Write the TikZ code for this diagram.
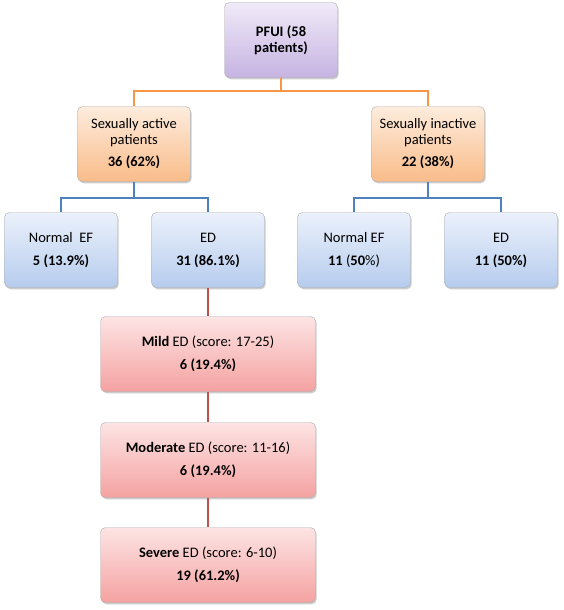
\documentclass[tikz,border=0pt]{standalone}
\usepackage{fontspec}
\setmainfont{Carlito}
\usetikzlibrary{shadows}

\definecolor{purpleTop}{HTML}{F0EAF8}
\definecolor{purpleBot}{HTML}{C6B3E2}
\definecolor{orangeTop}{HTML}{FDECDD}
\definecolor{orangeBot}{HTML}{F9BC89}
\definecolor{blueTop}{HTML}{EBF1FB}
\definecolor{blueBot}{HTML}{B6CCEE}
\definecolor{redTop}{HTML}{FDE4E4}
\definecolor{redBot}{HTML}{F4A2A1}
\definecolor{lineOrange}{HTML}{F79646}
\definecolor{lineBlue}{HTML}{4F81BD}
\definecolor{lineRed}{HTML}{C0504D}

\tikzset{
  box/.style={draw=gray!65, rounded corners=5pt, align=center,
    minimum width=113pt, minimum height=75pt, inner sep=2pt,
    font=\fontsize{14.5}{16}\selectfont,
    drop shadow={opacity=0.4, shadow xshift=1.2pt, shadow yshift=-1.8pt}},
  purplebox/.style={box, top color=purpleTop, bottom color=purpleBot},
  orangebox/.style={box, top color=orangeTop, bottom color=orangeBot},
  bluebox/.style={box, top color=blueTop, bottom color=blueBot},
  redbox/.style={box, top color=redTop, bottom color=redBot, minimum width=215pt},
  link/.style={line width=2.2pt}
}

\begin{document}
\begin{tikzpicture}[x=1pt,y=-1pt]
  \useasboundingbox (0,0) rectangle (563,610);

  \node[purplebox] (pfui) at (281,40) {\textbf{PFUI (58}\\\textbf{patients)}};

  \node[orangebox] (active) at (134,144) {Sexually active\\patients\\[6pt]\textbf{36 (62\%)}};
  \node[orangebox] (inactive) at (428,144) {Sexually inactive\\patients\\[6pt]\textbf{22} \textbf{(38\%)}};

  \node[bluebox] (normA) at (61,250) {Normal\ \ EF\\[7pt]\textbf{5 (13.9\%)}};
  \node[bluebox] (edA) at (208,250) {ED\\[7pt]\textbf{31} \textbf{(86.1\%)}};
  \node[bluebox] (normI) at (354,250) {Normal EF\\[7pt]\textbf{11} (\textbf{50}\%)};
  \node[bluebox] (edI) at (501,250) {ED\\[7pt]\textbf{11} \textbf{(50\%)}};

  \node[redbox] (mild) at (208,354) {\textbf{Mild} ED (score: 17-25)\\[7pt]\textbf{6 (19.4\%)}};
  \node[redbox] (moderate) at (208,460) {\textbf{Moderate} ED (score: 11-16)\\[7pt]\textbf{6 (19.4\%)}};
  \node[redbox] (severe) at (208,565) {\textbf{Severe} ED (score: 6-10)\\[7pt]\textbf{19 (61.2\%)}};

  \draw[link, lineOrange] (pfui.south) -- ++(0,13) -| (active.north);
  \draw[link, lineOrange] (pfui.south) -- ++(0,13) -| (inactive.north);

  \draw[link, lineBlue] (active.south) -- ++(0,16) -| (normA.north);
  \draw[link, lineBlue] (active.south) -- ++(0,16) -| (edA.north);
  \draw[link, lineBlue] (inactive.south) -- ++(0,16) -| (normI.north);
  \draw[link, lineBlue] (inactive.south) -- ++(0,16) -| (edI.north);

  \draw[link, lineRed] (edA.south) -- (mild.north);
  \draw[link, lineRed] (mild.south) -- (moderate.north);
  \draw[link, lineRed] (moderate.south) -- (severe.north);

\end{tikzpicture}
\end{document}
